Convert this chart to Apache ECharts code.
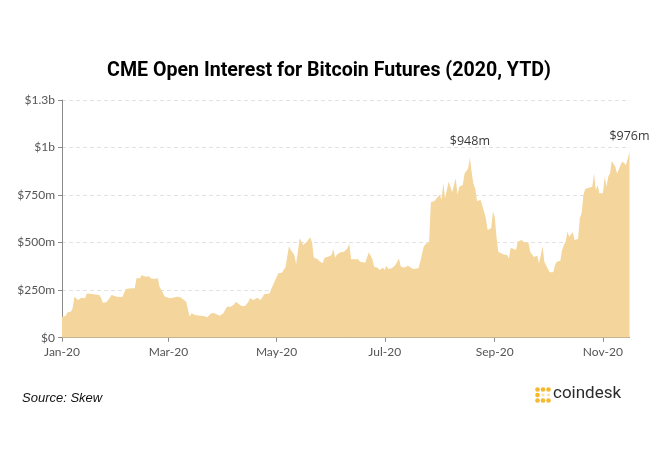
<!DOCTYPE html>
<html>
<head>
<meta charset="utf-8">
<script src="https://cdn.jsdelivr.net/npm/echarts@6/dist/echarts.min.js"></script>
<style>
html,body{margin:0;padding:0;background:#fff;}
#chart{width:658px;height:463px;}
</style>
</head>
<body>
<div id="chart"></div>
<script>
// ---- Data (CME Bitcoin futures open interest, $ millions) ----
const dates = [
'2020-01-01','2020-01-03','2020-01-04','2020-01-06','2020-01-07','2020-01-08','2020-01-10','2020-01-12','2020-01-14','2020-01-15',
'2020-01-18','2020-01-19','2020-01-22','2020-01-23','2020-01-24','2020-01-26','2020-01-27','2020-01-29','2020-01-30','2020-02-01',
'2020-02-04','2020-02-05','2020-02-06','2020-02-09','2020-02-10','2020-02-11','2020-02-12','2020-02-14','2020-02-15','2020-02-17',
'2020-02-19','2020-02-20','2020-02-22','2020-02-24','2020-02-25','2020-02-26','2020-02-28','2020-03-02','2020-03-06','2020-03-08',
'2020-03-11','2020-03-12','2020-03-13','2020-03-14','2020-03-16','2020-03-19','2020-03-21','2020-03-23','2020-03-25','2020-03-27',
'2020-03-30','2020-04-01','2020-04-03','2020-04-05','2020-04-07','2020-04-08','2020-04-11','2020-04-13','2020-04-15','2020-04-16',
'2020-04-18','2020-04-20','2020-04-22','2020-04-23','2020-04-24','2020-04-27','2020-04-28','2020-04-29','2020-04-30','2020-05-01',
'2020-05-02','2020-05-04','2020-05-06','2020-05-08','2020-05-09','2020-05-11','2020-05-12','2020-05-13','2020-05-14','2020-05-16',
'2020-05-17','2020-05-18','2020-05-20','2020-05-21','2020-05-22','2020-05-24','2020-05-25','2020-05-26','2020-05-27','2020-05-28',
'2020-05-30','2020-05-31','2020-06-01','2020-06-02','2020-06-03','2020-06-04','2020-06-06','2020-06-08','2020-06-10','2020-06-11',
'2020-06-12','2020-06-14','2020-06-15','2020-06-16','2020-06-17','2020-06-18','2020-06-20','2020-06-21','2020-06-22','2020-06-23',
'2020-06-24','2020-06-25','2020-06-27','2020-06-28','2020-06-29','2020-06-30','2020-07-01','2020-07-02','2020-07-03','2020-07-05',
'2020-07-06','2020-07-07','2020-07-09','2020-07-10','2020-07-12','2020-07-14','2020-07-15','2020-07-17','2020-07-20','2020-07-21',
'2020-07-22','2020-07-23','2020-07-24','2020-07-25','2020-07-26','2020-07-27','2020-07-29','2020-07-30','2020-07-31','2020-08-01',
'2020-08-02','2020-08-03','2020-08-04','2020-08-05','2020-08-06','2020-08-07','2020-08-08','2020-08-09','2020-08-10','2020-08-11',
'2020-08-12','2020-08-14','2020-08-15','2020-08-16','2020-08-17','2020-08-18','2020-08-19','2020-08-20','2020-08-21','2020-08-22',
'2020-08-24','2020-08-25','2020-08-26','2020-08-27','2020-08-28','2020-08-29','2020-08-30','2020-08-31','2020-09-01','2020-09-02',
'2020-09-03','2020-09-04','2020-09-06','2020-09-08','2020-09-09','2020-09-10','2020-09-11','2020-09-13','2020-09-14','2020-09-16',
'2020-09-17','2020-09-18','2020-09-20','2020-09-21','2020-09-22','2020-09-23','2020-09-24','2020-09-25','2020-09-26','2020-09-27',
'2020-09-28','2020-09-29','2020-09-30','2020-10-01','2020-10-02','2020-10-04','2020-10-05','2020-10-06','2020-10-08','2020-10-09',
'2020-10-10','2020-10-11','2020-10-12','2020-10-13','2020-10-14','2020-10-15','2020-10-16','2020-10-17','2020-10-18','2020-10-19',
'2020-10-20','2020-10-21','2020-10-22','2020-10-23','2020-10-24','2020-10-25','2020-10-26','2020-10-27','2020-10-28','2020-10-29',
'2020-10-30','2020-10-31','2020-11-01','2020-11-02','2020-11-03','2020-11-04','2020-11-05','2020-11-06','2020-11-07','2020-11-08',
'2020-11-09','2020-11-10','2020-11-11','2020-11-12','2020-11-13','2020-11-14','2020-11-15','2020-11-16'
];
const openInterest = [
110,114,133,137,155,216,198,210,207,233,
230,233,225,210,184,186,198,225,233,216,
214,207,256,260,263,260,312,312,330,321,
323,312,309,312,268,251,216,207,216,212,
189,180,110,128,119,116,114,107,128,128,
116,128,163,163,175,189,168,166,186,207,
198,210,198,207,228,233,256,251,298,294,
339,342,370,482,461,435,387,452,523,487,
484,505,528,500,421,414,403,407,391,421,
426,421,435,466,421,438,449,452,470,496,
412,412,408,412,400,391,394,394,449,449,
414,373,368,356,361,368,356,379,361,365,
365,382,417,375,368,379,373,361,365,400,
440,479,491,496,505,712,719,724,741,753,
724,812,733,777,820,824,765,759,838,753,
794,803,864,870,890,948,870,808,785,719,
724,719,663,628,566,561,575,663,636,531,
452,443,438,435,417,473,470,461,505,514,
505,501,501,452,443,425,417,431,391,391,
479,400,396,361,344,344,382,400,405,461,
487,505,557,531,540,554,514,517,519,628,
654,750,782,789,789,782,794,864,777,803,
759,750,759,847,794,847,864,929,920,899,
864,873,908,926,922,908,905,976
];
const annotationDates = ['2020-08-18', '2020-11-16'];
const annotationValues = [948, 976];
const annotationLabels = ['$948m', '$976m'];

const xTickDates = ['2020-01-01','2020-03-01','2020-05-01','2020-07-01','2020-09-01','2020-11-01'];
const xTickLabels = ['Jan-20','Mar-20','May-20','Jul-20','Sep-20','Nov-20'];
const yTickValues = [0, 250, 500, 750, 1000, 1250];
const yTickLabels = ['$0','$250m','$500m','$750m','$1b','$1.3b'];

const titleText = 'CME Open Interest for Bitcoin Futures (2020, YTD)';
const sourceText = 'Source: Skew';

// ---- Build ----
function parseDate(s){ const p = s.split('-').map(Number); return Date.UTC(p[0], p[1]-1, p[2]); }
const seriesData = dates.map((d,i)=>[parseDate(d), openInterest[i]]);
const annData = annotationDates.map((d,i)=>({value:[parseDate(d), annotationValues[i]], label:{formatter: annotationLabels[i]}}));
const xTickTs = xTickDates.map(parseDate);

const chart = echarts.init(document.getElementById('chart'), null, {renderer:'canvas'});
const gold = '#f5b82e';
const faint = '#fbe2a6';
const logoDots = [];
const cols = [537.5, 543, 548.5], rows = [389.5, 395, 400.5];
rows.forEach((ry,ri)=>cols.forEach((cx,ci)=>{
  const strong = ri===0 || ri===2 || ci===0;
  logoDots.push({type:'circle', shape:{cx:cx, cy:ry, r: strong?2.3:1.6}, style:{fill: strong?gold:faint}, silent:true});
}));

chart.setOption({
  animation:false,
  backgroundColor:'#ffffff',
  title:{
    text:titleText, left:'center', top:56,
    textStyle:{fontFamily:'Roboto', fontWeight:'bold', fontSize:19.6, color:'#000'}
  },
  grid:{left:62, right:28.5, top:100, bottom:125.3, containLabel:false},
  xAxis:{
    type:'value',
    min:parseDate('2020-01-01'), max:parseDate('2020-11-16'),
    axisLine:{show:true, lineStyle:{color:'#8a8a8a', width:1}},
    axisTick:{show:true, length:4, lineStyle:{color:'#8a8a8a'}, customValues:xTickTs},
    axisLabel:{
      customValues:xTickTs,
      margin:8, color:'#555', fontFamily:'Lato', fontSize:12,
      formatter:function(v){ const i = xTickTs.indexOf(v); return i>=0 ? xTickLabels[i] : ''; }
    },
    splitLine:{show:false}
  },
  yAxis:{
    type:'value', min:0, max:1250, interval:250,
    axisLine:{show:true, lineStyle:{color:'#8a8a8a', width:1}},
    axisTick:{show:true, length:4, lineStyle:{color:'#8a8a8a'}},
    axisLabel:{
      margin:7, color:'#555', fontFamily:'Lato', fontSize:12,
      formatter:function(v){ const i = yTickValues.indexOf(v); return i>=0 ? yTickLabels[i] : ''; }
    },
    splitLine:{show:true, lineStyle:{color:'#e2e2e2', type:[4,3], width:1}}
  },
  series:[
    {
      type:'line', data:seriesData, symbol:'none', smooth:false,
      lineStyle:{width:0, color:'#f4d59b'},
      areaStyle:{color:'#f4d59b', opacity:1},
      z:2
    },
    {
      type:'scatter', data:annData, symbolSize:1,
      itemStyle:{color:'rgba(0,0,0,0)'},
      label:{show:true, position:'top', distance:9, color:'#000', fontFamily:'Open Sans', fontSize:12.5},
      z:5
    }
  ],
  graphic:[
    {type:'text', left:22, top:392, style:{text:sourceText, font:'italic 13px "Liberation Sans"', fill:'#111'}, silent:true},
    {type:'text', left:553, top:385, style:{text:'coindesk', font:'17px Roboto', fill:'#2b2b2b'}, silent:true}
  ].concat(logoDots)
});
</script>
</body>
</html>
